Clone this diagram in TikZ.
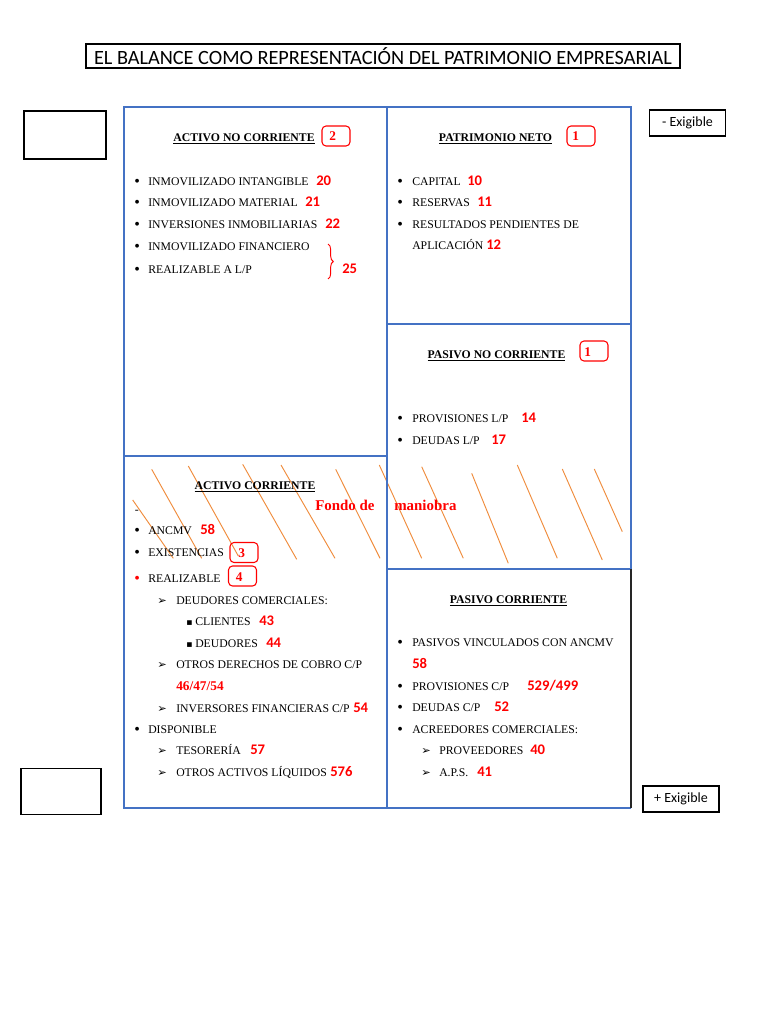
\documentclass[tikz,border=0pt]{standalone}
\usepackage{fontspec}
\setmainfont{Liberation Serif}
\newfontfamily\calib{Carlito}
\newfontfamily\djv{DejaVu Sans}
\usetikzlibrary{decorations.pathreplacing}
\definecolor{boxblue}{RGB}{68,114,196}
\definecolor{hatchc}{RGB}{240,140,60}
\definecolor{numred}{RGB}{255,0,0}
\begin{document}
\begin{tikzpicture}[x=0.75pt,y=-0.75pt,
  txt/.style={font=\fontsize{8.8}{10}\selectfont, inner sep=0pt, anchor=base west},
  hdr/.style={font=\bfseries\fontsize{8.8}{10}\selectfont, inner sep=0pt, anchor=base},
  num/.style={font=\calib\bfseries\fontsize{11}{12}\selectfont, text=numred, inner sep=0pt, anchor=base west},
  snum/.style={font=\bfseries\fontsize{10}{12}\selectfont, text=numred, inner sep=0pt, anchor=base west},
  fnd/.style={font=\bfseries\fontsize{11.2}{12}\selectfont, text=numred, inner sep=0pt, anchor=base west},
  bul/.style={font=\fontsize{12}{12}\selectfont, inner sep=0pt, anchor=base west},
  arr/.style={font=\djv\fontsize{8.5}{9}\selectfont, inner sep=0pt, anchor=base west},
  sq/.style={font=\djv\fontsize{7}{8}\selectfont, inner sep=0pt, anchor=base west},
  rbox/.style={draw=numred, rounded corners=3pt, line width=0.8pt, minimum width=21pt, minimum height=15pt, inner sep=0pt},
  pane/.style={draw=boxblue, line width=1.1pt},
  plain/.style={draw=black, line width=0.8pt},
  tag/.style={draw=black, line width=0.8pt, font=\calib\fontsize{10.5}{12}\selectfont, inner sep=0pt, minimum width=57pt, minimum height=19.5pt},
  hatch/.style={draw=hatchc, line width=0.7pt}
]
\useasboundingbox (0,0) rectangle (768,1024);
\fill[white] (0,0) rectangle (768,1024);

% title
\node[draw=black, line width=0.8pt, inner sep=0pt, minimum width=445.5pt, minimum height=18pt,
  font=\calib\fontsize{15.2}{17}\selectfont] (title) at (383,56)
  {EL BALANCE COMO REPRESENTACIÓN DEL PATRIMONIO EMPRESARIAL};

% side boxes
\node[plain, minimum width=61.5pt, minimum height=36pt, inner sep=0pt] (blankA) at (65,135) {};
\node[plain, minimum width=60pt, minimum height=35pt, inner sep=0pt] (blankB) at (61,791.5) {};
\node[tag] (exmin) at (687.5,123) {- Exigible};
\node[tag] (explus) at (681,799) {+ Exigible};

% hatch lines (fondo de maniobra)
\draw[hatch] (132.7,500) -- (173.3,558.3);
\draw[hatch] (151.7,469.3) -- (201.7,558.3);
\draw[hatch] (188.3,466) -- (238.3,556);
\draw[hatch] (242.7,464.3) -- (296.7,559.3);
\draw[hatch] (281,465) -- (335,558.3);
\draw[hatch] (335.7,469.3) -- (380,558.3);
\draw[hatch] (379.3,465) -- (421.7,558.3);
\draw[hatch] (421.7,466.7) -- (463.3,558.3);
\draw[hatch] (471.7,473.3) -- (508.3,563.3);
\draw[hatch] (517.3,465) -- (557.3,558.3);
\draw[hatch] (562.3,469) -- (602.3,560);
\draw[hatch] (594.3,469) -- (622.3,531.7);

% panes
\draw[pane] (124,107) rectangle (387,456);
\draw[pane] (124,456) rectangle (387,808);
\draw[pane] (387,107) rectangle (631,324);
\draw[pane] (387,324) rectangle (631,569);
\draw[pane] (631,808) -- (387,808) -- (387,569) -- (631,569);
\draw[draw=black!85, line width=1.1pt] (631,569) -- (631,808);

% ---- ACTIVO NO CORRIENTE ----
\node[hdr] (hANC) at (244,141) {\underline{ACTIVO NO CORRIENTE}};
\node[rbox] (bANC) at (336,136) {};
\node[snum] (dANC) at (329,140) {2};
\node[bul] (u1) at (134,186) {•};
\node[txt] (t1) at (148,185) {INMOVILIZADO INTANGIBLE};
\node[num] (n1) at (316,185) {20};
\node[bul] (u2) at (134,207) {•};
\node[txt] (t2) at (148,206) {INMOVILIZADO MATERIAL};
\node[num] (n2) at (305,206) {21};
\node[bul] (u3) at (134,229) {•};
\node[txt] (t3) at (148,228) {INVERSIONES INMOBILIARIAS};
\node[num] (n3) at (325,228) {22};
\node[bul] (u4) at (134,251) {•};
\node[txt] (t4) at (148,250) {INMOVILIZADO FINANCIERO};
\node[bul] (u5) at (134,274) {•};
\node[txt] (t5) at (148,273) {REALIZABLE A L/P};
\coordinate (brTop) at (328,244);
\coordinate (brBot) at (328,279);
\draw[numred, line width=0.7pt, decorate, decoration={brace, amplitude=4pt}] (brTop) -- (brBot);
\node[num] (n25) at (342,273) {25};

% ---- PATRIMONIO NETO ----
\node[hdr] (hPN) at (495.5,141) {\underline{PATRIMONIO NETO}};
\node[rbox] (bPN) at (581,136) {};
\node[snum] (dPN) at (572,140) {1};
\node[bul] (v1) at (397,186) {•};
\node[txt] (p1) at (412,185) {CAPITAL};
\node[num] (m1) at (467,185) {10};
\node[bul] (v2) at (397,207) {•};
\node[txt] (p2) at (412,206) {RESERVAS};
\node[num] (m2) at (477,206) {11};
\node[bul] (v3) at (397,229) {•};
\node[txt] (p3) at (412,228) {RESULTADOS PENDIENTES DE};
\node[txt] (p4) at (412,249) {APLICACIÓN};
\node[num] (m4) at (486,249) {12};

% ---- PASIVO NO CORRIENTE ----
\node[hdr] (hPNC) at (496.5,358) {\underline{PASIVO NO CORRIENTE}};
\node[rbox] (bPNC) at (594,351) {};
\node[snum] (dPNC) at (584,356) {1};
\node[bul] (w1) at (397,423) {•};
\node[txt] (q1) at (412,422) {PROVISIONES L/P};
\node[num] (k1) at (521,422) {14};
\node[bul] (w2) at (397,445) {•};
\node[txt] (q2) at (412,444) {DEUDAS L/P};
\node[num] (k2) at (491,444) {17};

% ---- ACTIVO CORRIENTE ----
\node[hdr] (hAC) at (255,489) {\underline{ACTIVO CORRIENTE}};
\node[txt] (dash) at (134.5,513) {-};
\node[fnd] (fondo) at (315,510) {Fondo de};
\node[fnd] (maniobra) at (394,510) {maniobra};
\node[bul] (a1) at (134,535) {•};
\node[txt] (c1) at (148,534) {ANCMV};
\node[num] (e1) at (200,534) {58};
\node[bul] (a2) at (134,557) {•};
\node[txt] (c2) at (148,556) {EXISTENCIAS};
\node[rbox] (bEX) at (244,552.5) {};
\node[snum] (dEX) at (238,557) {3};
\node[bul, text=numred] (a3) at (134,583) {•};
\node[txt] (c3) at (148,582) {REALIZABLE};
\node[rbox] (bRE) at (242.5,576) {};
\node[snum] (dRE) at (235.5,581) {4};
\node[arr] (r1) at (157,604.5) {➢};
\node[txt] (c4) at (176,604) {DEUDORES COMERCIALES:};
\node[sq] (s1) at (186,625) {▪};
\node[txt] (c5) at (195,625) {CLIENTES};
\node[num] (e5) at (259,625) {43};
\node[sq] (s2) at (186,647) {▪};
\node[txt] (c6) at (195,647) {DEUDORES};
\node[num] (e6) at (266,647) {44};
\node[arr] (r2) at (157,668.5) {➢};
\node[txt] (c7) at (176,668) {OTROS DERECHOS DE COBRO C/P};
\node[fnd, font=\bfseries\fontsize{10}{12}\selectfont] (e7) at (176,690) {46/47/54};
\node[arr] (r3) at (157,712.5) {➢};
\node[txt] (c8) at (176,712) {INVERSORES FINANCIERAS C/P};
\node[num] (e8) at (353,712) {54};
\node[bul] (a4) at (134,734) {•};
\node[txt] (c9) at (148,733) {DISPONIBLE};
\node[arr] (r4) at (157,754.5) {➢};
\node[txt] (c10) at (176,754) {TESORERÍA};
\node[num] (e10) at (250,754) {57};
\node[arr] (r5) at (157,776.5) {➢};
\node[txt] (c11) at (176,776) {OTROS ACTIVOS LÍQUIDOS};
\node[num] (e11) at (330,776) {576};

% ---- PASIVO CORRIENTE ----
\node[hdr] (hPC) at (508.5,603) {\underline{PASIVO CORRIENTE}};
\node[bul] (g1) at (397,647) {•};
\node[txt] (f1) at (412,646) {PASIVOS VINCULADOS CON ANCMV};
\node[num] (h1) at (412,668) {58};
\node[bul] (g2) at (397,691) {•};
\node[txt] (f2) at (412,690) {PROVISIONES C/P};
\node[num] (h2) at (527,690) {529/499};
\node[bul] (g3) at (397,712) {•};
\node[txt] (f3) at (412,711) {DEUDAS C/P};
\node[num] (h3) at (494,711) {52};
\node[bul] (g4) at (397,734) {•};
\node[txt] (f4) at (412,733) {ACREEDORES COMERCIALES:};
\node[arr] (x1) at (421,754.5) {➢};
\node[txt] (f5) at (439,754) {PROVEEDORES};
\node[num] (h5) at (530,754) {40};
\node[arr] (x2) at (421,776.5) {➢};
\node[txt] (f6) at (439,776) {A.P.S.};
\node[num] (h6) at (477,776) {41};
\end{tikzpicture}
\end{document}
